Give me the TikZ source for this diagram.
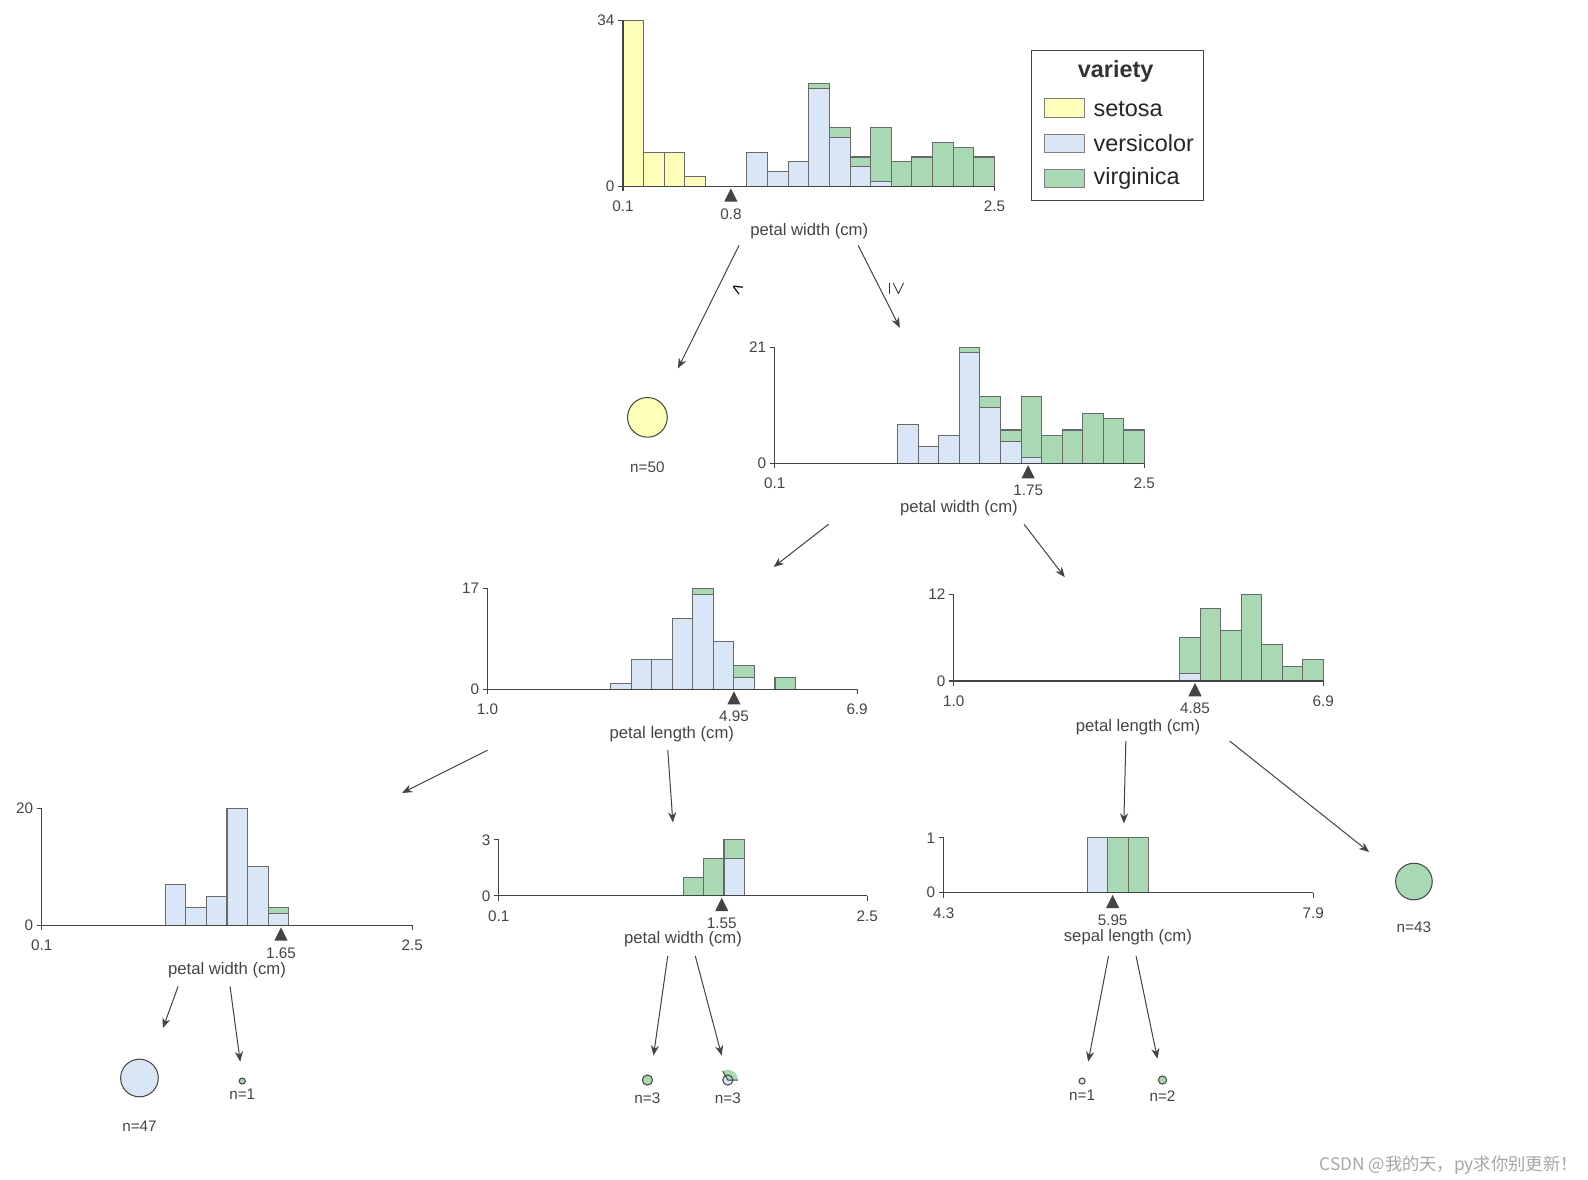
\documentclass[tikz,border=0pt]{standalone}
\usepackage{fontspec}
\setmainfont{Liberation Sans}
\newfontfamily\cjk{Noto Sans CJK SC}
\definecolor{cy}{HTML}{FEFEBB}
\definecolor{cb}{HTML}{D9E6F5}
\definecolor{cg}{HTML}{A8D8B4}
\definecolor{ce}{HTML}{444443}
\definecolor{ct}{HTML}{444443}
\tikzset{
 bar/.style={draw=ce!80,line width=0.5pt},
 ax/.style={draw=ce,line width=0.6pt},
 tick/.style={font=\fontsize{7.5}{8}\selectfont,text=ct,inner sep=0pt},
 alab/.style={font=\fontsize{8.2}{9}\selectfont,text=ct,inner sep=0pt},
 conn/.style={draw=ce,line width=0.5pt,-{Stealth[length=5pt,width=4pt]}},
 leaf/.style={draw=ce,line width=0.5pt},
 leg/.style={font=\fontsize{11.5}{12}\selectfont,text=black!85,anchor=west,inner sep=0pt},
}
\usetikzlibrary{arrows.meta}
% #1 x0 #2 x1 #3 y0 #4 ytop #5 max #6 nbins #7 list idx/y/b/g
\newcommand\histo[7]{%
 \foreach \i/\ya/\bl/\gr in {#7}{%
  \pgfmathsetmacro\xa{#1+\i*(#2-#1)/#6}%
  \pgfmathsetmacro\xb{#1+(\i+1)*(#2-#1)/#6}%
  \pgfmathsetmacro\s{(#3-#4)/#5}%
  \pgfmathsetmacro\ha{#3-\ya*\s}%
  \pgfmathsetmacro\hb{\ha-\bl*\s}%
  \pgfmathsetmacro\hc{\hb-\gr*\s}%
  \ifnum\ya>0 \draw[bar,fill=cy] (\xa,#3) rectangle (\xb,\ha);\fi
  \ifnum\bl>0 \draw[bar,fill=cb] (\xa,\ha) rectangle (\xb,\hb);\fi
  \ifnum\gr>0 \draw[bar,fill=cg] (\xa,\hb) rectangle (\xb,\hc);\fi
 }}
% #1 x0 #2 x1 #3 y0 #4 ytop #5 maxlabel #6 minx #7 maxx #8 splitx #9 splitlabel
\newcommand\axes[9]{%
 \draw[ax] (#1,#3) -- (#2,#3);
 \draw[ax] (#1,#3) -- (#1,#4);
 \draw[ax] (#1-5,#3) -- (#1,#3) (#1-5,#4) -- (#1,#4);
 \draw[ax] (#1,#3) -- (#1,#3+5) (#2,#3) -- (#2,#3+5);
 \node[tick,anchor=east] at (#1-8,#3) {0};
 \node[tick,anchor=east] at (#1-8,#4) {#5};
 \node[tick] at (#1,#3+20) {#6};
 \node[tick] at (#2,#3+20) {#7};
 \fill[ce] (#8,#3+2) -- (#8-6.5,#3+15) -- (#8+6.5,#3+15) -- cycle;
 \node[tick] at (#8,#3+27) {#9};
}
\begin{document}
\begin{tikzpicture}[x=0.5pt,y=-0.5pt]
\useasboundingbox (0,0) rectangle (1560,1159);
% top
\histo{612}{977}{183}{20}{34}{18}{0/34/0/0,1/7/0/0,2/7/0/0,3/2/0/0,6/0/7/0,7/0/3/0,8/0/5/0,9/0/20/1,10/0/10/2,11/0/4/2,12/0/1/11,13/0/0/5,14/0/0/6,15/0/0/9,16/0/0/8,17/0/0/6}
\axes{612}{977}{183}{20}{34}{0.1}{2.5}{718}{0.8}
\node[alab] at (795,227) {petal width (cm)};
% legend
\draw[draw=ce,line width=0.6pt] (1013,50) rectangle (1182,197);
\node[font=\fontsize{11.5}{12}\selectfont\bfseries,text=black!80] at (1096,70) {variety};
\draw[draw=gray,line width=0.4pt,fill=cy] (1026,97) rectangle (1065,115);
\draw[draw=gray,line width=0.4pt,fill=cb] (1026,132) rectangle (1065,150);
\draw[draw=gray,line width=0.4pt,fill=cg] (1026,166) rectangle (1065,184);
\node[leg] at (1074,107) {setosa};
\node[leg] at (1074,141) {versicolor};
\node[leg] at (1074,175) {virginica};
% second
\histo{761}{1124}{455}{341}{21}{18}{6/0/7/0,7/0/3/0,8/0/5/0,9/0/20/1,10/0/10/2,11/0/4/2,12/0/1/11,13/0/0/5,14/0/0/6,15/0/0/9,16/0/0/8,17/0/0/6}
\axes{761}{1124}{455}{341}{21}{0.1}{2.5}{1010}{1.75}
\node[alab] at (942,499) {petal width (cm)};
% third
\histo{479}{842}{677}{578}{17}{18}{6/0/1/0,7/0/5/0,8/0/5/0,9/0/12/0,10/0/16/1,11/0/8/0,12/0/2/2,14/0/0/2}
\axes{479}{842}{677}{578}{17}{1.0}{6.9}{721}{4.95}
\node[alab] at (660,721) {petal length (cm)};
% fourth
\histo{937}{1300}{669}{584}{12}{18}{11/0/1/5,12/0/0/10,13/0/0/7,14/0/0/12,15/0/0/5,16/0/0/2,17/0/0/3}
\axes{937}{1300}{669}{584}{12}{1.0}{6.9}{1174}{4.85}
\node[alab] at (1118,714) {petal length (cm)};
% fifth
\histo{41}{405}{909}{794}{20}{18}{6/0/7/0,7/0/3/0,8/0/5/0,9/0/20/0,10/0/10/0,11/0/2/1}
\axes{41}{405}{909}{794}{20}{0.1}{2.5}{276}{1.65}
\node[alab] at (223,953) {petal width (cm)};
% sixth
\histo{490}{852}{880}{825}{3}{18}{9/0/0/1,10/0/0/2,11/0/2/1}
\axes{490}{852}{880}{825}{3}{0.1}{2.5}{709}{1.55}
\node[alab] at (671,923) {petal width (cm)};
% seventh
\histo{927}{1290}{877}{823}{1}{18}{7/0/1/0,8/0/0/1,9/0/0/1}
\axes{927}{1290}{877}{823}{1}{4.3}{7.9}{1093}{5.95}
\node[alab] at (1108,921) {sepal length (cm)};
% leaves
\draw[leaf,fill=cy] (636,410) circle[radius=19.5] ;
\node[tick] at (636,459) {n=50};
\draw[leaf,fill=cg] (1389,866) circle[radius=18];
\node[tick] at (1389,911) {n=43};
\draw[leaf,fill=cb] (137,1059) circle[radius=18.5];
\node[tick] at (137,1106) {n=47};
\draw[leaf,fill=cg] (238,1062) circle[radius=3];
\node[tick] at (238,1075) {n=1};
\draw[leaf,fill=cg] (636,1061) circle[radius=5];
\node[tick] at (636,1079) {n=3};
\fill[cb] (715,1061) circle[radius=5];
\fill[cg] (715,1061) -- ++(240:10) arc[start angle=240,end angle=360,radius=10] -- cycle;
\draw[leaf] (715,1061) ++(240:10) -- (715,1061) -- ++(0:10);
\draw[leaf] (715,1061) circle[radius=5];
\node[tick] at (715,1079) {n=3};
\draw[leaf,fill=cb] (1063,1062) circle[radius=3];
\node[tick] at (1063,1076) {n=1};
\draw[leaf,fill=cg] (1142,1061) circle[radius=4];
\node[tick] at (1142,1077) {n=2};
% connectors
\foreach \n/\a/\b/\c/\d in {a/726/241/666/362,b/843/241/884/322,c/814/515/760/557,d/1006/515/1046/567,e/479/737/395/779,f/656/737/661/808,g/1106/728/1104/809,h/1208/728/1345/837,i/175/969/160/1010,j/226/969/236/1043,k/656/939/642/1037,l/683/939/709/1037,m/1089/939/1069/1043,o/1116/939/1137/1040}{
 \coordinate (\n1) at (\a,\b); \coordinate (\n2) at (\c,\d);
 \draw[conn] (\n1) -- (\n2);}
\node[font=\fontsize{9}{9}\selectfont,rotate=-30] (lt) at (724,284) {<};
\node[font=\fontsize{9}{9}\selectfont,rotate=-90] (ge) at (881,284) {$\geq$};
\node[font=\cjk\fontsize{8.5}{9}\selectfont,text=gray!70,anchor=east] (wm) at (1557,1145) {CSDN @我的天，py求你别更新！};
\end{tikzpicture}
\end{document}
